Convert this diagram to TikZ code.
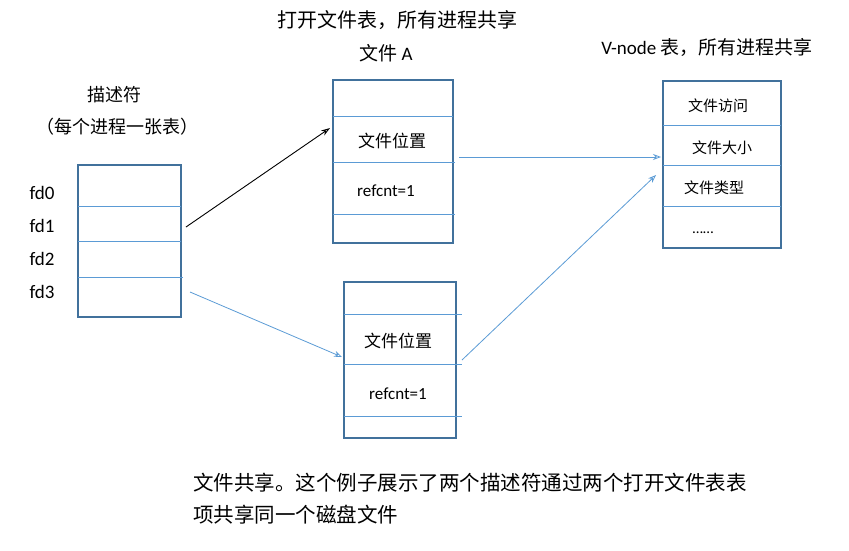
\documentclass[tikz,border=0pt]{standalone}
\usepackage{fontspec}
\setmainfont{Carlito}
\newfontfamily\cjk{Noto Sans CJK SC}
\usetikzlibrary{arrows.meta}
\definecolor{bord}{HTML}{41719C}
\definecolor{inl}{HTML}{5B9BD5}
\begin{document}
\begin{tikzpicture}[x=1pt,y=-1pt,
  box/.style={draw=bord,line width=1.2pt},
  sep/.style={draw=inl,line width=0.7pt},
  arr/.style={draw=inl,line width=0.8pt,-{Stealth[length=8pt,width=6pt,open]}},
  t/.style={inner sep=0pt,font=\fontsize{19}{22}\selectfont},
  h/.style={inner sep=0pt,font=\fontsize{18}{22}\selectfont},
  s/.style={inner sep=0pt,font=\fontsize{17}{20}\selectfont},
  v/.style={inner sep=0pt,font=\fontsize{15}{18}\selectfont}]
\useasboundingbox (0,0) rectangle (849,550);
% descriptor table
\node[box,minimum width=103pt,minimum height=152pt,inner sep=0pt] (d) at (129.5,241) {};
\draw[sep] (78,206) -- (181,206) (78,241) -- (181,241) (78,277) -- (183,277);
\node[t] (fd0) at (42,193) {fd0};
\node[t] (fd1) at (42,226) {fd1};
\node[t] (fd2) at (42,259) {fd2};
\node[t] (fd3) at (42,292) {fd3};
\node[h] (h1) at (114,95) {\cjk 描述符};
\node[h] (h2) at (117,127) {\cjk （每个进程一张表）};
% open file table A
\node[box,minimum width=120pt,minimum height=163pt,inner sep=0pt] (a) at (393,161.5) {};
\draw[sep] (333,116) -- (453,116) (333,162) -- (455,162) (333,214) -- (455,214);
\node[s] (a1) at (392,141) {\cjk 文件位置};
\node[s] (a2) at (386,191) {refcnt=1};
\node[t,font=\fontsize{20}{22}\selectfont] (ta) at (397,20) {\cjk 打开文件表，所有进程共享};
\node[t] (tb) at (386,53) {{\cjk 文件} A};
% open file table B
\node[box,minimum width=112pt,minimum height=156pt,inner sep=0pt] (b) at (400,360) {};
\draw[sep] (344,314) -- (462,314) (344,364) -- (462,364) (344,416) -- (462,416);
\node[s] (b1) at (398,341) {\cjk 文件位置};
\node[s] (b2) at (398,394) {refcnt=1};
% vnode
\node[box,minimum width=118pt,minimum height=167pt,inner sep=0pt] (v) at (722,164.5) {};
\draw[sep] (663,125) -- (781,125) (663,165) -- (781,165) (663,206) -- (781,206);
\node[v] (v1) at (718,106) {\cjk 文件访问};
\node[v] (v2) at (722,148) {\cjk 文件大小};
\node[v] (v3) at (714,188) {\cjk 文件类型};
\node[v] (v4) at (703,233) {……};
\node[t] (tv) at (707,47) {V-node {\cjk 表，所有进程共享}};
% arrows
\coordinate (p1) at (186,227); \coordinate (q1) at (330,128);
\coordinate (p2) at (459,157); \coordinate (q2) at (661,157);
\coordinate (p3) at (190,292); \coordinate (q3) at (342,357);
\coordinate (p4) at (462,360); \coordinate (q4) at (656,175);
\draw[line width=0.9pt,-{Stealth[length=9pt,width=6pt,open]}] (p1) -- (q1);
\draw[arr] (p2) -- (q2);
\draw[arr] (p3) -- (q3);
\draw[arr] (p4) -- (q4);
% caption
\node[t,anchor=west,font=\fontsize{20.5}{22}\selectfont] (c1) at (193,483) {\cjk 文件共享。这个例子展示了两个描述符通过两个打开文件表表};
\node[t,anchor=west,font=\fontsize{20.5}{22}\selectfont] (c2) at (193,515) {\cjk 项共享同一个磁盘文件};
\end{tikzpicture}
\end{document}
